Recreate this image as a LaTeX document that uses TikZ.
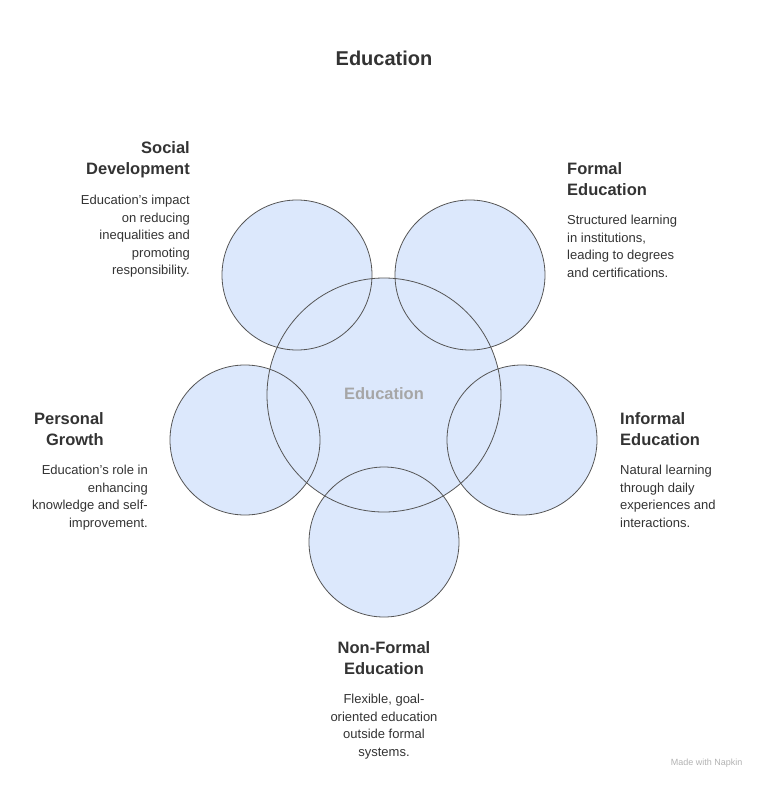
\documentclass[tikz,border=0pt]{standalone}
\usepackage{fontspec}
\setmainfont{Liberation Sans}
\usetikzlibrary{positioning}
\definecolor{petalblue}{HTML}{DCE8FC}
\definecolor{ringgray}{HTML}{555555}
\definecolor{inktext}{HTML}{333333}
\begin{document}
\begin{tikzpicture}[x=1pt,y=-1pt,
head/.style={font=\fontsize{16.5}{21}\selectfont\bfseries, text=inktext, inner sep=0pt},
body/.style={font=\fontsize{13}{17.5}\selectfont, text=inktext, inner sep=0pt}]
\useasboundingbox (0,0) rectangle (768,789);
% fills first, then rings
\foreach \cx/\cy/\r in {297/275/75,470/275/75,245/440/75,522/440/75,384/542/75,384/395/117}
  \fill[petalblue] (\cx,\cy) circle (\r);
\foreach \cx/\cy/\r in {297/275/75,470/275/75,245/440/75,522/440/75,384/542/75,384/395/117}
  \draw[ringgray, line width=0.8pt] (\cx,\cy) circle (\r);
\node[font=\fontsize{20}{24}\selectfont\bfseries, text=inktext] (title) at (384,58) {Education};
\node[font=\fontsize{16.5}{20}\selectfont\bfseries, text=gray!70] (core) at (384,394) {Education};
% Social Development
\node[head, align=right, anchor=north east] (sochead) at (190,141) {Social\\Development};
\node[body, align=right, anchor=north east] (socbody) at (190,195) {Education's impact\\on reducing\\inequalities and\\promoting\\responsibility.};
% Formal Education
\node[head, align=left, anchor=north west] (forhead) at (567,162) {Formal\\Education};
\node[body, align=left, anchor=north west] (forbody) at (567,215) {Structured learning\\in institutions,\\leading to degrees\\and certifications.};
% Personal Growth
\node[head, align=right, anchor=north east] (perhead) at (104,412) {Personal\\Growth};
\node[body, align=right, anchor=north east] (perbody) at (148,465) {Education's role in\\enhancing\\knowledge and self-\\improvement.};
% Informal Education
\node[head, align=left, anchor=north west] (infhead) at (620,412) {Informal\\Education};
\node[body, align=left, anchor=north west] (infbody) at (620,465) {Natural learning\\through daily\\experiences and\\interactions.};
% Non-Formal Education
\node[head, align=center, anchor=north] (nonhead) at (384,641) {Non-Formal\\Education};
\node[body, align=center, anchor=north] (nonbody) at (384,694) {Flexible, goal-\\oriented education\\outside formal\\systems.};
\node[font=\fontsize{9}{11}\selectfont, text=gray!60, anchor=east] (made) at (746,763) {Made with Napkin};
\end{tikzpicture}
\end{document}
